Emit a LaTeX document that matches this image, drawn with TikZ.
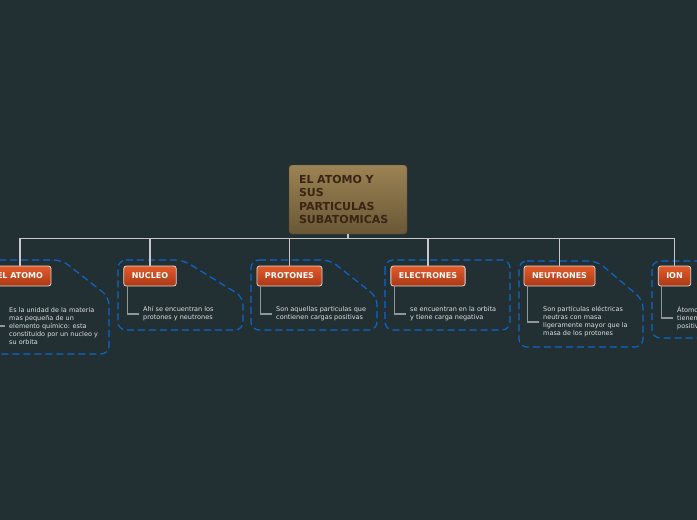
\documentclass[tikz,border=0pt]{standalone}
\usepackage{fontspec}
\setmainfont{DejaVu Sans}
\definecolor{bg}{HTML}{233033}
\definecolor{rootTop}{HTML}{9C8354}
\definecolor{rootBot}{HTML}{695736}
\definecolor{rootText}{HTML}{3A2412}
\definecolor{topicTop}{HTML}{E35B2A}
\definecolor{topicBot}{HTML}{A93816}
\definecolor{frame}{HTML}{0B66CC}
\begin{document}
\begin{tikzpicture}[x=1pt,y=-1pt,
  root/.style={draw=rootBot!80!black, rounded corners=3pt, top color=rootTop, bottom color=rootBot, text=rootText, font=\fontsize{11}{13.5}\selectfont\bfseries, text width=98pt, align=left, inner xsep=10pt, minimum width=118pt, minimum height=69pt},
  topic/.style={draw=white!85!black, line width=0.8pt, rounded corners=2.5pt, top color=topicTop, bottom color=topicBot, text=white, font=\fontsize{8}{9}\selectfont\bfseries, inner xsep=8pt, inner ysep=0pt, minimum height=20pt},
  desc/.style={anchor=west, inner sep=0pt, align=left, text=white!88!black, font=\fontsize{6.5}{8}\selectfont},
  bus/.style={draw=white!78!black, line width=1.2pt},
  sub/.style={draw=white!50!bg, line width=1.2pt},
  zone/.style={draw=frame, line width=1.2pt, dash pattern=on 7pt off 4pt, rounded corners=8pt}]
\useasboundingbox (0,0) rectangle (697,520);
\clip (0,0) rectangle (697,520);
\fill[bg] (0,0) rectangle (697,520);

% dashed zones
\draw[zone] (-20,260) -- (62,260) -- (109,297) -- (109,354) -- (-20,354) -- cycle;
\draw[zone] (118,260) -- (183,260) -- (243,297) -- (243,330) -- (118,330) -- cycle;
\draw[zone] (251,260) -- (330,260) -- (377,297) -- (377,330) -- (251,330) -- cycle;
\draw[zone] (385,260) rectangle (510,330);
\draw[zone] (519,261) -- (597,261) -- (643,300) -- (643,347) -- (519,347) -- cycle;
\draw[zone] (652,261) rectangle (730,338);

\node[root] (0) at (348,199.5) {EL ATOMO Y\\SUS\\PARTICULAS\\SUBATOMICAS};
\node[topic] (1) at (20,276) {EL ATOMO};
\node[topic] (2) at (150,276) {NUCLEO};
\node[topic] (3) at (289.5,276) {PROTONES};
\node[topic] (4) at (428,276) {ELECTRONES};
\node[topic] (5) at (559.5,276) {NEUTRONES};
\node[topic] (6) at (674.5,276) {ION};

\node[desc] (t1) at (9,326) {Es la unidad de la materia\\mas pequeña de un\\elemento químico: esta\\constituido por un nucleo y\\su orbita};
\node[desc] (t2) at (143,314) {Ahí se encuentran los\\protones y neutrones};
\node[desc] (t3) at (276,314) {Son aquellas particulas que\\contienen cargas positivas};
\node[desc] (t4) at (410,314) {se encuentran en la orbita\\y tiene carga negativa};
\node[desc] (t5) at (543,322) {Son partículas eléctricas\\neutras con masa\\ligeramente mayor que la\\masa de los protones};
\node[desc] (t6) at (677,318) {Átomos o moléculas que\\tienen carga eléctrica\\positiva o negativa};

\path[bus] (0.south) -- ++(0,4) -| (1.north);
\path[bus] (0.south) -- ++(0,4) -| (2.north);
\path[bus] (0.south) -- ++(0,4) -| (3.north);
\path[bus] (0.south) -- ++(0,4) -| (4.north);
\path[bus] (0.south) -- ++(0,4) -| (5.north);
\path[bus] (0.south) -- ++(0,4) -| (6.north);

\path[sub] ([xshift=4pt]1.south west) |- ([xshift=-4pt]t1.west);
\path[sub] ([xshift=4pt]2.south west) |- ([xshift=-4pt]t2.west);
\path[sub] ([xshift=4pt]3.south west) |- ([xshift=-4pt]t3.west);
\path[sub] ([xshift=4pt]4.south west) |- ([xshift=-4pt]t4.west);
\path[sub] ([xshift=4pt]5.south west) |- ([xshift=-4pt]t5.west);
\path[sub] ([xshift=4pt]6.south west) |- ([xshift=-4pt]t6.west);
\end{tikzpicture}
\end{document}
